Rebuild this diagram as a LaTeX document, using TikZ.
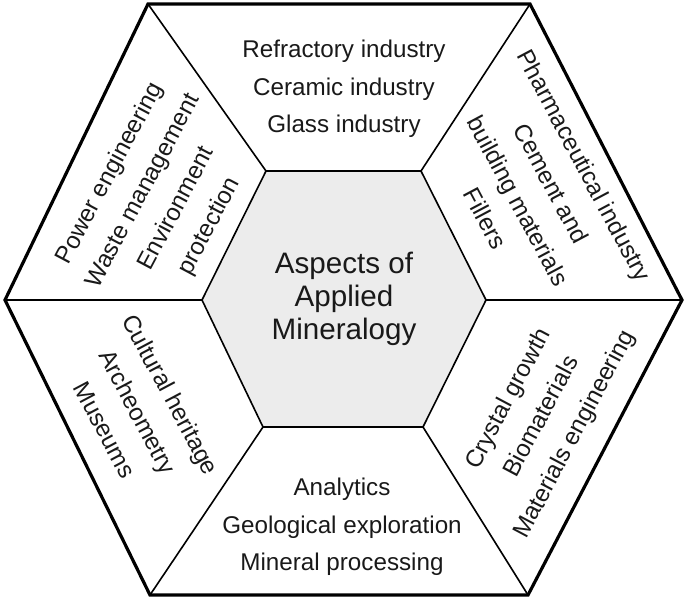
\documentclass[tikz,border=0pt]{standalone}
\usepackage{fontspec}
\setmainfont{Liberation Sans}
\usepackage{tikz}
\usetikzlibrary{positioning,calc}
\definecolor{hubfill}{RGB}{236,236,236}
\definecolor{textcol}{RGB}{25,25,25}

\begin{document}
\begin{tikzpicture}[x=1pt, y=-1pt,
    every node/.style={text=textcol, inner sep=0pt, align=center},
    field/.style={font=\fontsize{24.2}{37.5}\selectfont},
    hub/.style={font=\fontsize{29.6}{33}\selectfont},
    rim/.style={line width=3.2pt, line join=miter},
    spoke/.style={line width=1.6pt, line join=miter}]
    \useasboundingbox (0,0) rectangle (685,600);
    % Corners of the outer and inner hexagons
    \foreach \k/\x/\y in {1/5/300, 2/148/4, 3/530/4, 4/682/300, 5/528/595, 6/150/595} {
      \coordinate (o\k) at (\x,\y);
    }
    \foreach \k/\x/\y in {1/202/300, 2/266/171, 3/421/171, 4/486/300, 5/423/427, 6/263/427} {
      \coordinate (i\k) at (\x,\y);
    }
    % Grey centre and the six sectors
    \draw[spoke, fill=hubfill] (i1) -- (i2) -- (i3) -- (i4) -- (i5) -- (i6) -- cycle;
    \foreach \k in {1,...,6} {
      \draw[spoke] (o\k) -- (i\k);
    }
    \draw[rim] (o1) -- (o2) -- (o3) -- (o4) -- (o5) -- (o6) -- cycle;
    % Centre label
    \node[hub] (aspects) at (344,299) {Aspects of\\Applied\\Mineralogy};
    % Sector labels
    \node[field] (top) at (344,89) {Refractory industry\\Ceramic industry\\Glass industry};
    \node[field, rotate=-62] (upright) at (535,192) {Pharmaceutical industry\\Cement and\\building materials\\Fillers};
    \node[field, rotate=62] (lowright) at (542,417) {Crystal growth\\Biomaterials\\Materials engineering};
    \node[field] (bottom) at (342,527) {Analytics\\Geological exploration\\Mineral processing};
    \node[field, rotate=-62] (lowleft) at (138,412) {Cultural heritage\\Archeometry\\Museums};
    \node[field, rotate=62] (upleft) at (160,200) {Power engineering\\Waste management\\Environment\\protection};
\end{tikzpicture}
\end{document}
